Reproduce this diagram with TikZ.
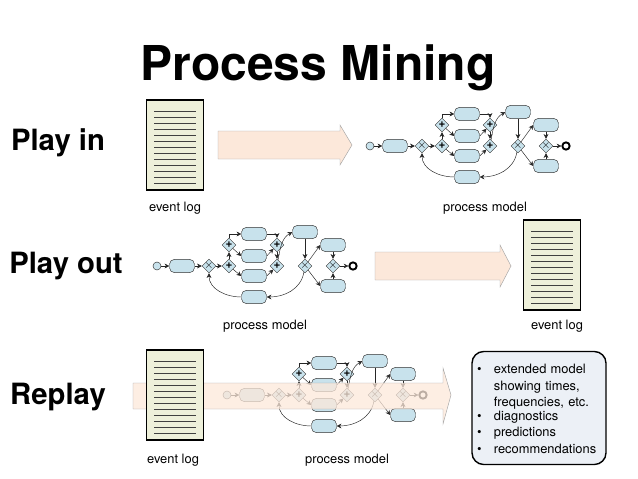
\documentclass[tikz,border=0pt]{standalone}
\usepackage{fontspec}
\setmainfont{TeX Gyre Heros}
\usetikzlibrary{shapes.geometric,arrows.meta}

\definecolor{taskblue}{RGB}{200,226,236}
\definecolor{docfill}{RGB}{238,240,218}
\definecolor{arrowfill}{RGB}{252,232,218}
\definecolor{boxfill}{RGB}{236,240,246}

\tikzset{
  task/.style={draw=black!80, fill=taskblue, rounded corners=0.15cm,
               minimum width=0.75cm, minimum height=0.4cm, inner sep=0pt},
  gw/.style={draw=black!80, fill=taskblue, diamond, minimum size=0.42cm,
             inner sep=0pt, font=\bfseries\fontsize{7}{7}\selectfont},
  xorgw/.style={gw, label={[inner sep=0pt]center:$\times$}},
  andgw/.style={gw, label={[inner sep=0pt]center:\textbf{+}}},
  startev/.style={draw=black!80, fill=taskblue, circle, minimum size=0.24cm, inner sep=0pt},
  endev/.style={draw=black, circle, line width=1.6pt, minimum size=0.22cm, inner sep=0pt},
  flow/.style={-{Stealth[length=4pt,width=4pt]}, black!85, thin},
  lbl/.style={font=\fontsize{11}{13}\selectfont},
  rowlbl/.style={font=\bfseries\fontsize{25}{28}\selectfont},
  bigarrow/.style={draw=black!35, fill=arrowfill},
}

% one process model, placed at its start event
\newcommand\procmodel[3]{%
  \begin{scope}[shift={(#2,#3)}, name prefix=#1-]
    \node[startev] (s) at (0,0) {};
    \node[task] (t1) at (25,0) {};
    \node[xorgw] (g1) at (52,0) {};
    \node[andgw] (g2) at (72,0) {};
    \node[andgw] (g3) at (72,-21) {};
    \node[task] (ta) at (97,-32) {};
    \node[task] (tb) at (97,-10) {};
    \node[task] (tc) at (97,10) {};
    \node[task] (tg) at (97,31) {};
    \node[andgw] (j1) at (120,-21) {};
    \node[andgw] (j2) at (120,0) {};
    \node[task] (td) at (148,-34) {};
    \node[xorgw] (x1) at (148,0) {};
    \node[task] (te) at (176,-21) {};
    \node[task] (tf) at (176,20) {};
    \node[xorgw] (x2) at (176,0) {};
    \node[endev] (e) at (196,0) {};

    \draw[flow] (s) -- (t1);
    \draw[flow] (t1) -- (g1);
    \draw[flow] (g1) -- (g2);
    \draw[flow] (g2) -- (g3);
    \draw[flow] (g3) |- (ta);
    \draw[flow] (g3) -- (tb.west);
    \draw[flow] (g2) -- (tc.west);
    \draw[flow] (ta) -| (j1);
    \draw[flow] (tb.east) -- (j1);
    \draw[flow] (j1) -- (j2);
    \draw[flow] (tc.east) -- (j2);
    \draw[flow] (j2) to[out=80,in=-150] (td.west);
    \draw[flow] (td) -- (x1);
    \draw[flow] (x1) -- (te.west);
    \draw[flow] (x1) -- (tf.west);
    \draw[flow] (te) -- (x2);
    \draw[flow] (tf) -- (x2);
    \draw[flow] (x2) -- (e);
    \draw[flow] (x1) to[out=-100,in=0] (tg.east);
    \draw[flow] (tg.west) to[out=180,in=-90] (g1.south);
  \end{scope}}

% an event log sheet
\newcommand\eventlog[3]{%
  \node[draw=black, line width=1pt, fill=docfill, minimum width=1.71cm,
        minimum height=2.7cm, inner sep=0pt] (#1) at (#2,#3) {};
  \foreach \k in {1,...,13}
    \draw[black!75] ([xshift=0.25cm, yshift=-0.16cm-\k*0.18cm]#1.north west)
      -- ([xshift=-0.25cm, yshift=-0.16cm-\k*0.18cm]#1.north east);}

\newcommand\bitem[1]{\makebox[0.5cm][l]{\textbullet}\parbox[t]{3.2cm}{#1}\par}

\begin{document}
\begin{tikzpicture}[x=0.03cm, y=-0.03cm]
  \useasboundingbox (0,0) rectangle (638,479);

  \node[font=\bfseries\fontsize{41}{44}\selectfont] (title) at (318,68) {Process Mining};

  % Play in
  \node[rowlbl] (playin) at (58,143) {Play in};
  \eventlog{login}{175}{145}
  \draw[bigarrow] (218,131) -- (340,131) -- (340,125) -- (352,145)
    -- (340,165) -- (340,159) -- (218,159) -- cycle;
  \procmodel{mi}{370}{146}
  \node[lbl] (login-l) at (175,208) {event log};
  \node[lbl] (mi-l) at (485,208) {process model};

  % Play out
  \node[rowlbl] (playout) at (66,266) {Play out};
  \procmodel{mo}{157}{266}
  \draw[bigarrow] (375,252) -- (500,252) -- (500,245) -- (511,266)
    -- (500,287) -- (500,280) -- (375,280) -- cycle;
  \eventlog{logout}{552}{265}
  \node[lbl] (mo-l) at (265,326) {process model};
  \node[lbl] (logout-l) at (557,326) {event log};

  % Replay
  \node[rowlbl] (replay) at (58,397) {Replay};
  \procmodel{mr}{227}{395}
  \draw[bigarrow, fill opacity=0.75] (133,383) -- (443,383) -- (443,368) -- (451,395)
    -- (443,424) -- (443,409) -- (133,409) -- cycle;
  \eventlog{logrep}{175}{395}
  \node[lbl] (logrep-l) at (173,460) {event log};
  \node[lbl] (mr-l) at (347,460) {process model};

  \node[draw=black, line width=1.2pt, fill=boxfill, rounded corners=0.35cm,
        minimum width=4.02cm, minimum height=3.39cm, inner sep=0pt] (box) at (539,408) {};
  \node[text width=3.7cm, font=\fontsize{11}{14.2}\selectfont, anchor=north west,
        inner sep=0pt, align=left] (boxtext) at (477,364) {%
    \bitem{extended model showing times, frequencies, etc.}
    \bitem{diagnostics}
    \bitem{predictions}
    \bitem{recommendations}};
\end{tikzpicture}
\end{document}
